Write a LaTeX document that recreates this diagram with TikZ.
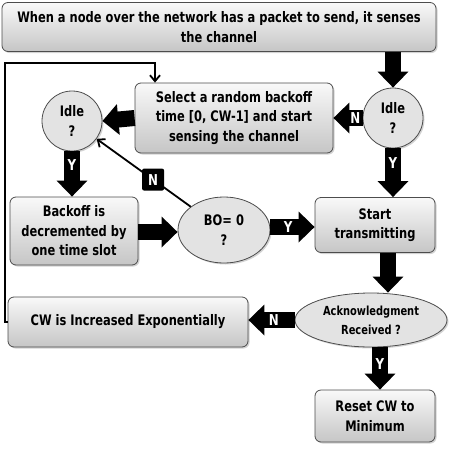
\documentclass[tikz,border=0pt]{standalone}
\usepackage{fontspec}
\setmainfont{DejaVu Sans}[FakeStretch=0.79]
\usetikzlibrary{arrows.meta,shapes.geometric,shadows,calc}
\begin{document}
\begin{tikzpicture}[x=1pt,y=-1pt,
  txt/.style={font=\bfseries\fontsize{14.5}{19.5}\selectfont, align=center},
  shad/.style={drop shadow={shadow xshift=1.5pt,shadow yshift=-1.5pt,opacity=0.35}},
  box/.style={txt, shad, draw=gray!60!black, line width=0.8pt, rounded corners=6pt,
    top color=gray!5, bottom color=gray!45, inner sep=2pt},
  dec/.style={txt, shad, draw=gray!60!black, line width=0.8pt, fill=gray!22, inner sep=0pt},
  blk/.style={line width=16pt, black, -{Triangle[width=30pt,length=16pt]}},
  lbl/.style={text=white, font=\bfseries\fontsize{15}{15}\selectfont, inner sep=0pt},
  thinarr/.style={line width=1.8pt, black, -{Straight Barb[length=6pt,width=10pt]}},
  nbox/.style={fill=black, text=white, rounded corners=2pt, minimum size=22pt, inner sep=1pt,
    font=\bfseries\fontsize{15}{15}\selectfont},
]
\useasboundingbox (0,0) rectangle (453,448);

\node[box, minimum width=434pt, minimum height=49pt] (top) at (219,27)
  {When a node over the network has a packet to send, it senses\\the channel};
\node[dec, circle, minimum size=60pt] (idleR) at (393,118) {Idle\\?};
\node[box, minimum width=198pt, minimum height=70pt] (sel) at (234,118)
  {Select a random backoff\\time [0, CW-1] and start\\sensing the channel};
\node[dec, circle, minimum size=60pt] (idleL) at (72,121) {Idle\\?};
\node[box, minimum width=128pt, minimum height=68pt] (back) at (74,231)
  {Backoff is\\decremented by\\one time slot};
\node[dec, ellipse, minimum width=92pt, minimum height=66pt] (bo) at (224,230) {BO= 0\\?};
\node[box, minimum width=120pt, minimum height=55pt] (start) at (375,225) {Start\\transmitting};
\node[dec, ellipse, minimum width=152pt, minimum height=54pt,
  font=\bfseries\fontsize{12.5}{19}\selectfont] (ack) at (371,320) {Acknowledgment\\Received ?};
\node[box, minimum width=240pt, minimum height=50pt] (cw) at (128,322) {CW is Increased Exponentially};
\node[box, minimum width=120pt, minimum height=52pt] (reset) at (375,416) {Reset CW to\\Minimum};

\coordinate (xR) at (393,0);
\coordinate (xS) at (388,0);
\coordinate (xA) at (380,0);
\coordinate (xF) at (155,0);
\coordinate (fbL) at (5,63);

\draw[blk] (top.south -| xR) -- (idleR.north);
\draw[blk] (idleR.west) -- node[lbl, pos=0.25] {N} (sel.east);
\draw[blk] (sel.west) -- (idleL.east);
\draw[blk] (idleL.south) -- node[lbl, pos=0.3] {Y} (back.north -| idleL);
\draw[blk] (idleR.south) -- node[lbl, pos=0.3] {Y} (start.north -| xR);
\draw[blk] (back.east |- 0,232) -- (bo.west |- 0,232);
\draw[blk] (bo.east |- 0,227) -- node[lbl, pos=0.4] {Y} (start.west |- 0,227);
\draw[blk] (start.south -| xS) -- (ack.north -| xS);
\draw[blk] (ack.west) -- node[lbl, pos=0.45] {N} (cw.east |- ack.west);
\draw[blk] (ack.south -| xA) -- node[lbl, pos=0.4] {Y} (reset.north -| xA);

\draw[thinarr] (bo.145) -- node[nbox, pos=0.4] {N} (idleL.-36);
\draw[thinarr] (cw.west) -| (fbL) -| (sel.north -| xF);
\end{tikzpicture}
\end{document}
